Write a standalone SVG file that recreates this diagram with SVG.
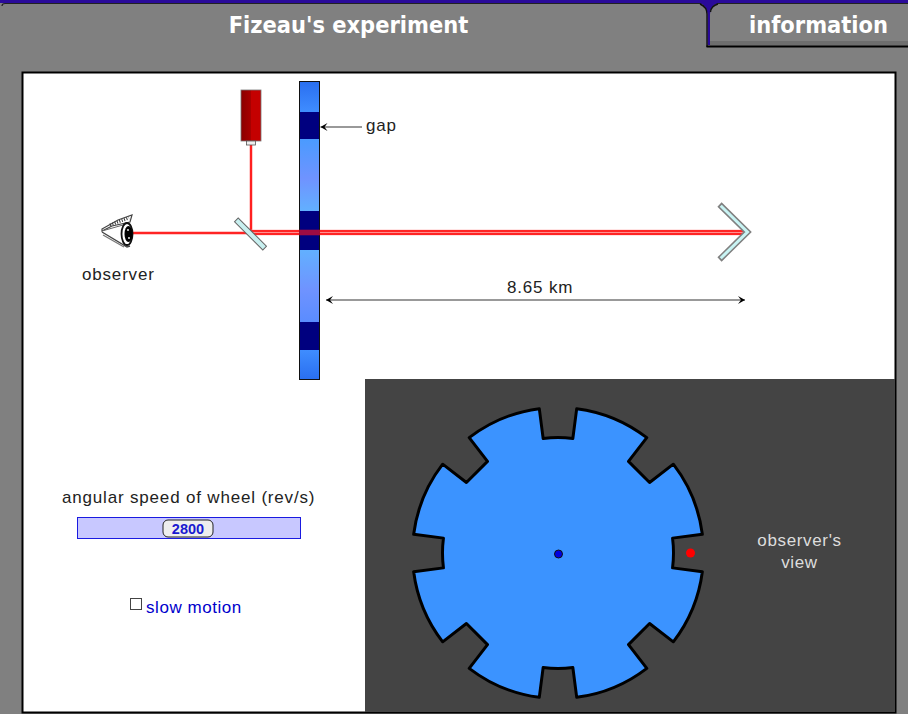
<svg xmlns="http://www.w3.org/2000/svg" width="908" height="714" viewBox="0 0 908 714">
<style>
.s{font-family:"Liberation Sans",Arial,sans-serif;font-size:17px;letter-spacing:.82px;fill:#222}
.t{font-family:"DejaVu Sans Condensed","DejaVu Sans",sans-serif;font-weight:700;font-size:23.4px;fill:#fff;text-anchor:middle}
.n{fill:#00007f}
</style>
<defs>
<linearGradient id="g1" x1="0" y1="0" x2="0" y2="1"><stop offset="0" stop-color="#2a6ff0"/><stop offset="1" stop-color="#3f8dff"/></linearGradient>
<linearGradient id="g2" x1="0" y1="0" x2="0" y2="1"><stop offset="0" stop-color="#4a9bff"/><stop offset=".55" stop-color="#6f93ff"/><stop offset="1" stop-color="#62b0ff"/></linearGradient>
<linearGradient id="g3" x1="0" y1="0" x2="0" y2="1"><stop offset="0" stop-color="#62b0ff"/><stop offset=".55" stop-color="#6f93ff"/><stop offset="1" stop-color="#5a8cff"/></linearGradient>
<linearGradient id="g4" x1="0" y1="0" x2="0" y2="1"><stop offset="0" stop-color="#3f8dff"/><stop offset="1" stop-color="#2a6ff0"/></linearGradient>
<linearGradient id="laser" x1="0" y1="0" x2="1" y2="0"><stop offset="0" stop-color="#8a0000"/><stop offset=".5" stop-color="#a80000"/><stop offset=".52" stop-color="#c40000"/></linearGradient>
<marker id="ah" viewBox="0 0 10 10" refX="9" refY="5" markerWidth="10" markerHeight="10" markerUnits="userSpaceOnUse" orient="auto-start-reverse"><path d="M2 1L9 5L2 9L5 5Z" fill="#000"/></marker>
</defs>
<g id="frame">
<rect width="908" height="714" fill="#808080"/>
<rect width="908" height="3" fill="#2a0a9a"/>
<path d="M2 6Q2 3.500 5 3.500H908" fill="none" stroke="#222" stroke-width="1.200"/>
<rect x="710" y="41" width="198" height="4.500" fill="#6e6e6e"/>
<path d="M707.500 47V14Q707 6 700 3H718Q710 6 710 14V45H708Z" fill="#2a0a9a"/>
<path d="M707 47V14Q707 7 700 4M710.500 12Q711 6 718 4" fill="none" stroke="#111" stroke-width="1.400"/>
<path d="M706.500 46.500H908" stroke="#000" stroke-width="2"/>
<text class="t" x="348.500" y="33">Fizeau's experiment</text>
<text class="t" x="818.500" y="33">information</text>
<rect x="22.500" y="72.500" width="873" height="640" fill="#fff" stroke="#000" stroke-width="2"/>
<rect x="365" y="379" width="530" height="333" fill="#444"/>
</g>
<g id="connectors">
<path d="M251 143V232" stroke="#ff8080" stroke-width="2.800" fill="none"/>
<path d="M251 143V232" stroke="#f00" stroke-width="1.500" fill="none"/>
<path d="M130 233H252" stroke="#ff9090" stroke-width="3" fill="none"/>
<path d="M130 233H252" stroke="#f00" stroke-width="1.500" fill="none"/>
<path d="M251 232.500H745" stroke="#ff9090" stroke-width="5.600" fill="none"/>
<path d="M251 231H745M251 234H745" stroke="#f00" stroke-width="1.300" fill="none"/>
<path d="M362 127H320.500" stroke="#777" stroke-width="1.500" marker-end="url(#ah)"/>
<path d="M326 300H745" stroke="#777" stroke-width="1.500" marker-start="url(#ah)" marker-end="url(#ah)"/>
</g>
<g id="laser-source">
<rect x="241" y="90" width="20" height="51" fill="url(#laser)" stroke="#777" stroke-width=".8"/>
<rect x="246.500" y="141" width="9" height="4" fill="#eee" stroke="#555" stroke-width=".8"/>
</g>
<g id="toothed-bar">
<rect x="299" y="82" width="21" height="30" fill="url(#g1)"/>
<rect x="299" y="112" width="21" height="27" class="n"/>
<rect x="299" y="139" width="21" height="72" fill="url(#g2)"/>
<rect x="299" y="211" width="21" height="39" class="n"/>
<rect x="299" y="250" width="21" height="72" fill="url(#g3)"/>
<rect x="299" y="322" width="21" height="28" class="n"/>
<rect x="299" y="350" width="21" height="29" fill="url(#g4)"/>
<rect x="299.500" y="81.500" width="20" height="298" fill="none" stroke="#111"/>
<path d="M299 232.500H320" stroke="#d01030" stroke-width="5.600" opacity=".75"/>
</g>
<g id="beam-splitter"><rect x="-2.600" y="-20" width="5.200" height="40" fill="#c8f0f0" stroke="#666" stroke-width="1" transform="translate(250.500 234) rotate(-45)"/></g>
<g id="mirror">
<path d="M719.500 204.500L747.500 232L719.500 259.500" fill="none" stroke="#808080" stroke-width="6"/>
<path d="M720.700 205.700L747.500 232L720.700 258.300" fill="none" stroke="#c8f4f4" stroke-width="3"/>
</g>
<g id="eye" fill="none">
<path d="M102 229L118 220L132 215L130 222L112 226L102 231Z" fill="#fff" stroke="#444" stroke-width="1.200"/>
<path d="M110 225L129 218" stroke="#333" stroke-width="3" stroke-dasharray="1 1.500"/>
<path d="M102 232L127 247L130 246" stroke="#444" stroke-width="1.400"/>
<path d="M103 235L124 247" stroke="#777" stroke-width="1.200"/>
<path d="M102 231L123 225" stroke="#666" stroke-width="1"/>
<ellipse cx="127" cy="234" rx="5.500" ry="11" fill="#fff" stroke="#111" stroke-width="1.800"/>
<ellipse cx="128.500" cy="234" rx="4" ry="8" fill="#000"/>
<circle cx="128" cy="230" r=".9" fill="#fff"/><circle cx="129" cy="238" r=".9" fill="#fff"/>
</g>
<g id="labels">
<text class="s" x="366" y="131">gap</text>
<text class="s" x="82" y="280">observer</text>
<text class="s" x="507" y="293">8.65 km</text>
<text class="s" x="62" y="503">angular speed of wheel (rev/s)</text>
</g>
<g id="slider">
<rect x="77.500" y="517.500" width="223" height="21" fill="#c8c8ff" stroke="#1a1ae0"/>
<rect x="163" y="520" width="50" height="17" rx="5" fill="#eee" stroke="#222"/>
<text x="188" y="534" text-anchor="middle" font-family="Liberation Sans,Arial,sans-serif" font-weight="700" font-size="14.500" fill="#1a1ad0">2800</text>
</g>
<g id="slow-motion">
<rect x="130.500" y="598.500" width="11" height="11" fill="#fff" stroke="#444"/>
<text x="146" y="613" font-family="Liberation Sans,Arial,sans-serif" font-size="17" letter-spacing=".55" fill="#0000cc">slow motion</text>
</g>
<g id="wheel">
<path transform="translate(558 553) scale(.99)" fill="#3b93ff" stroke="#000" stroke-width="3" stroke-linejoin="round" d="M145.800 -18.900L115.700 -15A116.700 116.700 0 0 1 115.700 15L145.800 18.900A147 147 0 0 1 116.500 89.700L92.500 71.200L71.200 92.500L89.700 116.500A147 147 0 0 1 18.900 145.800L15 115.700A116.700 116.700 0 0 1 -15 115.700L-18.900 145.800A147 147 0 0 1 -89.700 116.500L-71.200 92.500L-92.500 71.200L-116.500 89.700A147 147 0 0 1 -145.800 18.900L-115.700 15A116.700 116.700 0 0 1 -115.700 -15L-145.800 -18.900A147 147 0 0 1 -116.500 -89.700L-92.500 -71.200L-71.200 -92.500L-89.700 -116.500A147 147 0 0 1 -18.900 -145.800L-15 -115.700A116.700 116.700 0 0 1 15 -115.700L18.900 -145.800A147 147 0 0 1 89.700 -116.500L71.200 -92.500L92.500 -71.200L116.500 -89.700A147 147 0 0 1 145.800 -18.900Z"/>
<circle cx="558.500" cy="554" r="4" fill="#0000e0" stroke="#111"/>
<circle cx="690.500" cy="553" r="4.500" fill="#f00"/>
</g>
<g id="view-label" font-family="Liberation Sans,Arial,sans-serif" font-size="17" letter-spacing=".65" fill="#ddd" text-anchor="middle">
<text x="799.500" y="546">observer's</text><text x="799.500" y="568">view</text>
</g>
</svg>
